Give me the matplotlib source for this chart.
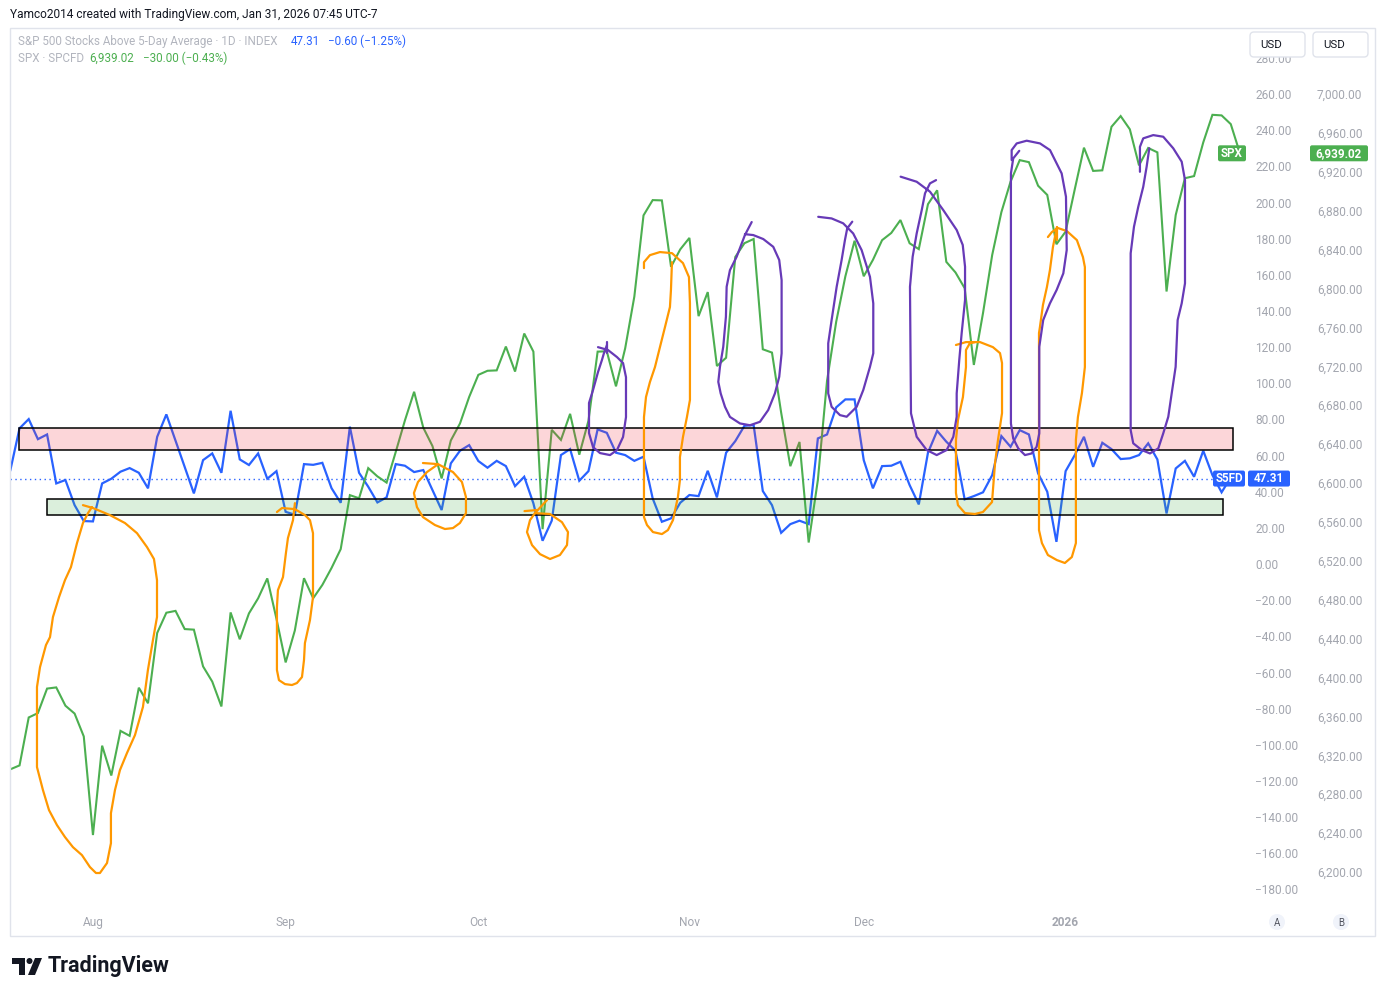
import matplotlib
matplotlib.use('Agg')
import matplotlib.pyplot as plt
from matplotlib.patches import Rectangle, FancyBboxPatch, Polygon, Circle
import pandas as pd

plt.rcParams['font.family'] = ['Roboto', 'DejaVu Sans']

# trading days shown on the chart
holidays = pd.to_datetime(['2025-09-01', '2025-11-27', '2025-12-25', '2026-01-01', '2026-01-19'])
dates = pd.bdate_range('2025-07-21', '2026-01-30').drop(holidays)

# S&P 500 stocks above 5-day average (%), left scale
s5fd = [52.0, 75.1, 80.2, 69.1, 71.7, 44.6, 46.5, 32.6, 23.8,
        23.6, 44.6, 47.2, 51.1, 53.1, 50.5, 41.9, 70.4, 82.8, 68.3, 53.7,
        39.1, 57.5, 61.2, 50.5, 84.8, 57.9, 54.8, 61.2, 47.2, 51.4,
        28.9, 27.3, 55.3, 54.9, 56.0, 42.0, 33.9, 76.0, 50.5, 42.8,
        34.1, 36.9, 55.3, 54.4, 50.9, 52.0, 40.9, 29.9, 55.7, 62.7, 65.8,
        57.0, 53.3, 57.1, 54.2, 43.1, 48.3, 33.6, 12.9, 24.0, 60.3,
        63.6, 46.1, 51.4, 74.5, 72.6, 61.6, 60.3, 57.1, 59.4, 36.3,
        23.4, 25.3, 33.9,
        38.2, 37.6, 51.6, 36.9, 61.6, 68.0, 76.5, 76.9, 40.4, 32.6,
        17.3, 22.1, 24.0, 22.1, 69.5, 71.7, 86.7, 91.1, 91.1,
        57.5, 41.9, 54.2, 54.4, 56.6, 43.7, 33.0, 61.6, 73.7, 67.7,
        62.7, 35.8, 37.6, 39.7, 49.2, 70.8, 64.9, 74.1, 71.7, 50.2,
        40.0, 12.3,
        51.4, 60.3, 70.4, 53.8, 67.1, 63.6, 58.1, 58.5, 60.3, 66.8,
        57.9, 28.0, 52.9, 57.1, 48.3, 62.7, 49.2, 39.7, 47.91, 47.31]

# SPX close, right scale
spx = [6305.6, 6309.6, 6358.9, 6363.4, 6388.6, 6389.8, 6371.0, 6362.9, 6339.4,
       6238.0, 6329.9, 6299.2, 6345.1, 6340.0, 6389.5, 6373.5, 6445.8, 6466.6,
       6468.5, 6449.8, 6449.2, 6411.4, 6395.8, 6370.2, 6466.9, 6439.3, 6465.9,
       6481.4, 6501.9, 6460.3,
       6415.5, 6448.3, 6502.1, 6481.5, 6495.2, 6512.6, 6532.0, 6587.5, 6584.3,
       6615.3, 6606.8, 6600.4, 6632.0, 6664.4, 6693.8, 6656.9, 6638.0, 6604.7,
       6643.7, 6661.2, 6688.5,
       6711.2, 6715.4, 6715.8, 6740.3, 6714.6, 6753.7, 6735.1, 6552.5, 6654.7,
       6644.3, 6671.1, 6629.1, 6664.0, 6735.1, 6735.4, 6699.4, 6738.4, 6791.7,
       6875.2, 6890.9, 6890.6, 6822.3, 6840.2,
       6852.0, 6771.6, 6796.3, 6720.3, 6728.8, 6832.4, 6846.6, 6850.9, 6737.5,
       6734.1, 6672.4, 6617.3, 6642.2, 6538.8, 6603.0, 6705.1, 6765.9, 6812.6,
       6849.1,
       6812.6, 6829.4, 6849.7, 6857.1, 6870.4, 6846.5, 6840.5, 6886.7, 6901.0,
       6827.4, 6816.5, 6800.3, 6721.4, 6774.8, 6834.5, 6878.5, 6909.8, 6932.0,
       6929.9, 6905.7, 6896.2, 6845.5,
       6858.5, 6902.1, 6944.8, 6920.9, 6921.5, 6966.3, 6977.3, 6963.7, 6926.6,
       6944.5, 6940.0, 6796.9, 6875.6, 6913.4, 6915.6, 6950.2, 6978.6, 6978.0,
       6969.02, 6939.02]

assert len(dates) == len(s5fd) == len(spx)

left_ticks = list(range(-180, 281, 20))
right_ticks = list(range(6200, 7001, 40))

# zones drawn on the chart: (bar from, bar to, low, high) in S5FD units
pink_zone = (0.94, 133.24, 63.1, 75.2)
green_zone = (3.99, 132.15, 27.1, 36.0)

# hand drawn strokes: (bar index, S5FD value)
orange_marks = [
    [(7.91, 32.6), (9.00, 31.0), (10.85, 27.1), (12.49, 22.7), (13.80, 17.1), (14.89, 9.4),
     (15.65, 2.8), (15.98, -8.9), (15.98, -29.3), (15.54, -42.0), (14.99, -58.6), (14.45, -79.0),
     (13.58, -94.6), (12.71, -104.5), (11.94, -114.0), (11.40, -125.0), (10.96, -137.8),
     (10.96, -154.4), (10.53, -165.4), (9.76, -170.9), (9.33, -170.9), (8.67, -167.6),
     (7.80, -161.0), (6.82, -156.6), (5.95, -151.0), (5.08, -144.4), (4.21, -136.1),
     (3.55, -125.0), (2.90, -112.3), (2.90, -68.0), (3.23, -57.0), (3.88, -44.8), (4.32, -40.4),
     (4.64, -29.3), (5.30, -18.3), (5.95, -8.9), (6.60, -1.7), (7.26, 11.6), (7.91, 22.7),
     (8.46, 28.2), (8.89, 31.5)],
    [(29.05, 28.8), (29.60, 31.0), (31.01, 30.4), (32.10, 27.1), (32.65, 24.3), (32.98, 17.1),
     (32.98, -18.3), (32.65, -31.0), (32.10, -43.7), (32.00, -53.1), (31.78, -62.5),
     (31.23, -65.8), (30.69, -66.9), (29.93, -66.4), (29.27, -64.2), (29.05, -58.6),
     (29.05, -23.8), (29.16, -14.4), (29.71, -7.2), (30.03, 6.1), (30.25, 14.4), (30.80, 24.3),
     (31.01, 33.7)],
    [(44.96, 55.9), (46.60, 55.3), (48.23, 50.9), (49.21, 45.4), (49.65, 37.1), (49.65, 28.2),
     (48.99, 22.7), (48.23, 19.9), (47.36, 19.4), (46.27, 21.6), (44.96, 26.0), (44.31, 31.5),
     (43.98, 39.3), (44.42, 45.4), (45.40, 50.9), (46.49, 54.8)],
    [(56.03, 29.3), (57.39, 29.9)],
    [(58.48, 35.4), (57.17, 28.2), (58.81, 27.7), (60.11, 23.2), (60.77, 17.7), (60.66, 10.5),
     (59.89, 5.0), (58.81, 2.8), (57.72, 5.5), (56.85, 10.5), (56.30, 17.7), (56.63, 24.3),
     (57.17, 28.2)],
    [(69.05, 163.7), (69.05, 167.0), (69.70, 170.9), (70.79, 172.6), (72.10, 172.0),
     (73.30, 166.5), (73.95, 158.8), (74.06, 144.4), (74.06, 90.8), (73.73, 81.3), (73.30, 70.3),
     (72.97, 59.2), (72.97, 46.5), (72.75, 37.1), (72.21, 24.3), (71.66, 18.8), (71.01, 16.6),
     (70.03, 17.7), (69.38, 21.6), (69.05, 26.0), (69.05, 81.3), (69.27, 92.4), (69.70, 100.7),
     (70.25, 109.0), (70.79, 120.0), (71.34, 131.1), (71.88, 142.2), (71.99, 151.6),
     (72.10, 167.0)],
    [(103.05, 121.2), (104.14, 122.8), (105.67, 122.8), (107.08, 120.0), (107.85, 116.7),
     (108.07, 111.2), (108.07, 83.5), (107.63, 68.6), (107.31, 55.9), (107.08, 40.9),
     (106.98, 34.3), (105.99, 28.8), (105.12, 27.7), (104.03, 28.2), (103.27, 32.6),
     (103.05, 39.3), (103.05, 68.6), (103.27, 79.7), (103.81, 92.4), (104.14, 109.0),
     (104.14, 118.4), (104.58, 122.3), (105.12, 122.8)],
    [(113.07, 180.9), (113.51, 183.7), (114.16, 185.9), (115.14, 184.2), (116.23, 179.2),
     (116.89, 169.8), (117.10, 164.3), (117.10, 109.0), (116.78, 94.6), (116.34, 81.3),
     (116.12, 68.6), (116.12, 11.6), (115.68, 3.9), (114.92, 0.6), (114.05, 2.2), (113.07, 5.0),
     (112.42, 11.6), (112.10, 18.8), (112.10, 127.8), (112.20, 131.1), (112.53, 143.3),
     (112.96, 153.2), (113.29, 162.6), (113.62, 175.4), (114.05, 186.4)],
    [(114.05, 186.4), (114.05, 179.2)],
]

purple_marks = [
    [(64.04, 120.0), (65.13, 118.4), (66.11, 114.5), (66.77, 111.2), (67.09, 103.4),
     (67.09, 81.3), (66.77, 70.3), (66.11, 63.1), (65.35, 60.3), (64.26, 61.4), (63.50, 64.7),
     (63.06, 72.5), (63.06, 89.1), (63.50, 96.3), (64.04, 106.2), (64.47, 112.9), (64.69, 116.7),
     (65.02, 121.2)],
    [(65.02, 122.6), (65.02, 117.0)],
    [(80.79, 189.2), (80.05, 182.0), (79.15, 170.0), (78.42, 162.6), (78.06, 153.4),
     (77.98, 136.8), (77.69, 120.2), (77.33, 109.1), (77.15, 100.8), (77.41, 94.4), (77.88, 87.0),
     (78.42, 81.4), (79.51, 77.8), (80.60, 76.8), (81.69, 78.7), (82.59, 85.2), (83.32, 94.4),
     (83.79, 103.6), (84.05, 116.6), (84.05, 157.1), (83.79, 168.2), (83.14, 175.5),
     (82.05, 179.8), (80.96, 182.0), (80.05, 182.5)],
    [(88.04, 192.1), (89.50, 191.2), (90.76, 188.5), (91.85, 182.9), (92.77, 173.7),
     (93.68, 158.9), (94.04, 144.2), (94.04, 116.6), (93.68, 109.1), (92.95, 96.3), (92.23, 87.0),
     (91.14, 81.5), (90.41, 82.4), (89.50, 87.0), (89.13, 94.4), (89.13, 122.1), (89.50, 135.0),
     (90.05, 153.4), (90.59, 168.2), (90.95, 179.2), (91.20, 185.7), (91.75, 189.4)],
    [(97.02, 214.3), (98.77, 211.5), (100.22, 206.0), (101.67, 195.8), (103.13, 184.8),
     (103.79, 176.5), (104.04, 164.5), (104.04, 146.1), (103.67, 127.6), (103.41, 112.9),
     (103.13, 94.4), (103.13, 81.5), (102.76, 70.4), (102.04, 63.1), (100.95, 60.3),
     (99.86, 63.1), (98.77, 70.4), (98.15, 83.4), (98.04, 153.4), (98.33, 170.0), (98.77, 182.9),
     (99.32, 195.8), (99.68, 205.1), (100.22, 210.6), (100.88, 212.4)],
    [(109.12, 223.5), (109.12, 229.0), (109.67, 232.7), (110.76, 234.2), (112.21, 232.7),
     (113.30, 229.0), (113.84, 223.5), (114.57, 216.1), (115.04, 203.2), (115.12, 173.7),
     (114.75, 160.8), (114.02, 151.6), (113.29, 144.2), (112.56, 135.0), (112.13, 120.2),
     (112.13, 72.3), (111.84, 64.9), (111.30, 61.2), (110.57, 60.3), (109.84, 64.0),
     (109.29, 69.5), (109.04, 77.8), (109.04, 216.1), (109.29, 224.4), (109.95, 228.6)],
    [(123.10, 217.0), (123.10, 230.8), (123.46, 235.5), (124.55, 237.3), (125.64, 236.4),
     (126.73, 230.0), (127.65, 222.6), (128.01, 212.4), (128.01, 155.3), (127.65, 144.2),
     (127.21, 135.0), (126.99, 109.1), (126.56, 94.4), (126.19, 81.5), (125.64, 72.3),
     (125.10, 64.0), (124.19, 61.2), (123.29, 63.1), (122.37, 66.8), (122.09, 74.1),
     (122.09, 171.9), (122.45, 186.6), (122.92, 197.7), (123.46, 208.7), (123.83, 219.8),
     (124.12, 230.0)],
]

BLUE = '#2962FF'
GREEN = '#4CAF50'
ORANGE = '#FF9800'
PURPLE = '#673AB7'
SCALE = '#A3A6AF'
W, H = 1384, 996

fig = plt.figure(figsize=(W / 100, H / 100), dpi=100)
rect = [10 / W, 1 - 907 / H, 1235 / W, 880 / H]
xlim = (-0.04, 134.55)
ylim_s = (-189.7, 297.1)
ylim_p = (6164.0, 7068.9)
bars = range(len(dates))

# S5FD pane (bottom layer)
ax_s = fig.add_axes(rect, label='s5fd')
ax_s.set_xlim(*xlim)
ax_s.set_ylim(*ylim_s)
ax_s.plot(bars, s5fd, color=BLUE, lw=1.6, solid_joinstyle='miter')
ax_s.axhline(s5fd[-1], color=BLUE, lw=1.0, ls=(0, (1, 2.5)))
ax_s.yaxis.tick_right()
ax_s.set_yticks(left_ticks, [f'{v:.2f}'.replace('-', '\u2212') for v in left_ticks])
first_bars = [i for i in range(1, len(dates)) if dates[i].month != dates[i - 1].month]
month_labels = [d.strftime('%Y') if d.month == 1 else d.strftime('%b') for d in dates[first_bars]]
ax_s.set_xticks(first_bars, month_labels)
for lbl in ax_s.get_xticklabels():
    if lbl.get_text().isdigit():
        lbl.set_fontweight('bold')
        lbl.set_color('#8A8D96')
ax_s.tick_params(axis='y', length=0, pad=7.2, labelsize=8.6, labelcolor=SCALE)
ax_s.tick_params(axis='x', length=0, pad=6.5, labelsize=8.6, labelcolor=SCALE)
for sp in ax_s.spines.values():
    sp.set_visible(False)

# SPX overlay
ax_p = fig.add_axes(rect, label='spx')
ax_p.patch.set_visible(False)
ax_p.set_xlim(*xlim)
ax_p.set_ylim(*ylim_p)
ax_p.plot(bars, spx, color=GREEN, lw=1.5, solid_joinstyle='miter')
ax_p.xaxis.set_visible(False)
ax_p.yaxis.tick_right()
ax_p.set_yticks(right_ticks, [f'{v:,.2f}' for v in right_ticks])
ax_p.tick_params(axis='y', length=0, pad=51.8, labelsize=8.6, labelcolor=SCALE)
for sp in ax_p.spines.values():
    sp.set_visible(False)

# drawings layer
ax_d = fig.add_axes(rect, label='drawings')
ax_d.set_xlim(*xlim)
ax_d.set_ylim(*ylim_s)
ax_d.axis('off')
for (x0, x1, lo, hi), fc in [(pink_zone, (242 / 255, 54 / 255, 69 / 255, 0.2)),
                              (green_zone, (76 / 255, 175 / 255, 80 / 255, 0.2))]:
    ax_d.add_patch(Rectangle((x0, lo), x1 - x0, hi - lo, facecolor=fc,
                             edgecolor='black', lw=1.1, zorder=1))
for marks, col in [(orange_marks, ORANGE), (purple_marks, PURPLE)]:
    for stroke in marks:
        xs, ys = zip(*stroke)
        ax_d.plot(xs, ys, color=col, lw=1.6, solid_capstyle='round',
                  solid_joinstyle='round', zorder=2)

# overlay in figure pixels for the TradingView chrome
ov = fig.add_axes([0, 0, 1, 1], label='overlay', zorder=10)
ov.set_xlim(0, W)
ov.set_ylim(H, 0)
ov.axis('off')

ov.add_patch(Rectangle((9.5, 27.5), 1365, 908, fill=False, edgecolor='#E0E3EB', lw=1.0))
ov.text(10, 14, 'Yamco2014 created with TradingView.com, Jan 31, 2026 07:45 UTC-7',
        fontsize=8.6, color='#131722', va='center', ha='left')

d_s = s5fd[-1] - s5fd[-2]
d_p = spx[-1] - spx[-2]
fmt = lambda s: s.replace('-', '\u2212')
LEG = 8.4
ov.text(18, 41, 'S&P 500 Stocks Above 5-Day Average \u00b7 1D \u00b7 INDEX', fontsize=LEG,
        color='#B2B5BE', va='center')
ov.text(291, 41, f'{s5fd[-1]:.2f}', fontsize=LEG, color=BLUE, va='center')
ov.text(328, 41, fmt(f'{d_s:.2f} ({d_s / s5fd[-2] * 100:.2f}%)'), fontsize=LEG, color=BLUE, va='center')
ov.text(18, 58, 'SPX \u00b7 SPCFD', fontsize=LEG, color='#B2B5BE', va='center')
ov.text(89, 58, f'{spx[-1]:,.2f}', fontsize=LEG, color=GREEN, va='center')
ov.text(143, 58, fmt(f'{d_p:.2f} ({d_p / spx[-2] * 100:.2f}%)'), fontsize=LEG, color=GREEN, va='center')

for bx in (1250, 1313):
    ov.add_patch(FancyBboxPatch((bx, 32), 55, 25, boxstyle='round,pad=0,rounding_size=4',
                                facecolor='white', edgecolor='#E0E3EB', lw=1.0))
    ov.text(bx + 10, 44.5, 'USD', fontsize=8.2, color='#131722', va='center')

# last value labels
y_spx = H - ax_p.transData.transform((0, spx[-1]))[1]
y_s5 = H - ax_s.transData.transform((0, s5fd[-1]))[1]
for x, w, y, txt, col in [(1218, 28, y_spx, 'SPX', GREEN),
                          (1310, 58, y_spx, f'{spx[-1]:,.2f}', GREEN),
                          (1213, 32, y_s5, 'S5FD', BLUE),
                          (1248, 42, y_s5, f'{s5fd[-1]:.2f}', BLUE)]:
    ov.add_patch(FancyBboxPatch((x, y - 8), w, 16, boxstyle='round,pad=0,rounding_size=2',
                                facecolor=col, edgecolor='none'))
    ov.text(x + w / 2, y, txt, fontsize=8.4, color='white', fontweight='bold',
            ha='center', va='center')

for cx, letter in [(1277, 'A'), (1341, 'B')]:
    ov.add_patch(Circle((cx, 922), 8, facecolor='#F0F3FA', edgecolor='none'))
    ov.text(cx, 922.5, letter, fontsize=7, color='#50535E', ha='center', va='center')

# TradingView logo
ov.add_patch(Polygon([(12, 958), (25, 958), (25, 975), (19, 975), (19, 964), (12, 964)],
                     closed=True, facecolor='#131722', edgecolor='none'))
ov.add_patch(Circle((29.5, 961), 3, facecolor='#131722', edgecolor='none'))
ov.add_patch(Polygon([(35, 958), (42, 958), (35, 975), (28, 975)],
                     closed=True, facecolor='#131722', edgecolor='none'))
ov.text(48, 966, 'TradingView', fontsize=15.5, fontweight='bold', color='#131722',
        va='center', ha='left')

fig.savefig('out.png', dpi=100, facecolor='white')
